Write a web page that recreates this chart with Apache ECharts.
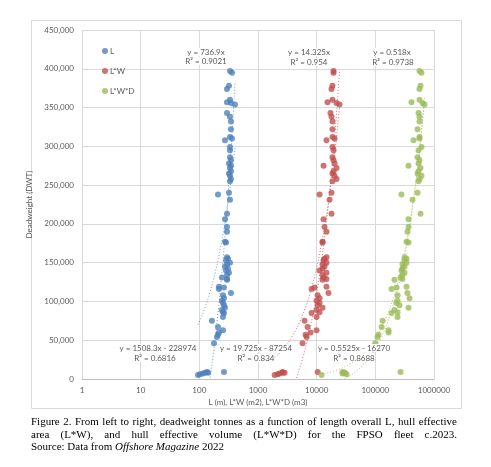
<!DOCTYPE html>
<html>
<head>
<meta charset="utf-8">
<script src="https://cdn.jsdelivr.net/npm/echarts@6/dist/echarts.min.js"></script>
<style>
  html, body { margin: 0; padding: 0; background: #fff; }
  #chart { width: 491px; height: 467px; }
  .caption {
    position: absolute;
    left: 31px;
    top: 415px;
    width: 426px;
    font-family: "Liberation Serif", serif;
    font-size: 11px;
    line-height: 12.5px;
    color: #000;
  }
  .caption .just { text-align: justify; text-align-last: justify; }
</style>
</head>
<body>
<div id="chart"></div>
<div class="caption">
  <div class="just">Figure 2. From left to right, deadweight tonnes as a function of length overall L, hull effective</div>
  <div class="just">area (L*W), and hull effective volume (L*W*D) for the FPSO fleet c.2023.</div>
  <div>Source: Data from <i>Offshore Magazine</i> 2022</div>
</div>
<script>
// deadweight of each FPSO (DWT), shared by all three series
const dwt = [
  397000, 395000, 378000, 374000, 360000, 357000, 356000, 354000, 343000, 338000,
  332000, 322000, 312000, 310000, 308000, 299000, 295000, 286000, 282000, 278000,
  275000, 272000, 268000, 265000, 262000, 258000, 255000, 238000, 240000, 231000,
  213000, 206000, 196000, 190000, 177000, 176000, 157000, 155000, 153000, 150000,
  148000, 145000, 142000, 140000, 137000, 134000, 131000, 129000, 128000, 119000,
  116000, 118000, 111000, 108000, 104000, 101000, 98000, 95000, 92000, 89000,
  86000, 85000, 80000, 75000, 67000, 63000, 60000, 57000, 54000, 46000,
  9000, 8000, 7000, 6000, 5000, 8000, 9000
]
// length overall L (m)
const lenL = [
  333, 360, 320, 296, 333, 296, 346, 405, 296, 333,
  346, 346, 333, 360, 274, 333, 333, 333, 346, 320,
  346, 333, 346, 320, 333, 346, 333, 208, 320, 333,
  296, 274, 296, 296, 274, 285, 296, 308, 285, 333,
  296, 274, 308, 285, 320, 296, 243, 296, 296, 216,
  216, 263, 346, 253, 263, 243, 253, 263, 274, 243,
  253, 263, 253, 164, 208, 253, 216, 208, 200, 178,
  263, 125, 115, 103, 95, 141, 135
]
// hull effective area L*W (m2)
const areaLW = [
  19400, 19400, 18600, 17900, 18600, 15300, 21800, 24500, 17200, 17900,
  18600, 18600, 18600, 20200, 14700, 18600, 19400, 18600, 19400, 20200,
  13100, 21800, 19400, 18600, 20200, 21800, 18600, 11200, 17900, 16600,
  17900, 13100, 13600, 14700, 12600, 12600, 14700, 13600, 13100, 14700,
  12600, 13600, 12600, 11200, 14700, 12600, 13100, 14700, 12600, 14700,
  8190, 9210, 15900, 10400, 11200, 9960, 11200, 10400, 12600, 9960,
  11200, 8190, 9960, 6220, 7000, 9960, 7870, 6470, 6730, 5750,
  10400, 2620, 2330, 2160, 1920, 2840, 2620
]
// hull effective volume L*W*D (m3)
const volLWD = [
  566000, 612000, 589000, 566000, 566000, 414000, 637000, 689000, 545000, 566000,
  566000, 524000, 566000, 566000, 448000, 612000, 545000, 524000, 566000, 545000,
  368000, 589000, 545000, 524000, 612000, 566000, 545000, 279000, 524000, 430000,
  589000, 368000, 368000, 353000, 340000, 368000, 314000, 340000, 314000, 340000,
  290000, 314000, 290000, 279000, 314000, 290000, 269000, 290000, 212000, 340000,
  189000, 230000, 353000, 239000, 383000, 239000, 230000, 258000, 368000, 212000,
  239000, 189000, 239000, 133000, 128000, 168000, 168000, 113000, 109000, 100000,
  269000, 29900, 27600, 32300, 12100, 29900, 27600
]

const seriesNames = ['L', 'L*W', 'L*W*D']
const seriesColors = ['#4F81BD', '#C0504D', '#9BBB59']
const seriesX = [lenL, areaLW, volLWD]

// Excel trendlines as printed on the chart: [slope, intercept]
const fitThroughZero = [[736.9, 0], [14.325, 0], [0.518, 0]]
const fitWithIntercept = [[1508.3, -228974], [19.725, -87254], [0.5525, -16270]]
const fitLabels = [
  ['y = 736.9x', 'R² = 0.9021', 'y = 1508.3x - 228974', 'R² = 0.6816'],
  ['y = 14.325x', 'R² = 0.954', 'y = 19.725x - 87254', 'R² = 0.834'],
  ['y = 0.518x', 'R² = 0.9738', 'y = 0.5525x - 16270', 'R² = 0.8688']
]

const xTicks = ['1', '10', '100', '1000', '10000', '100000', '1000000']

const chart = echarts.init(document.getElementById('chart'))
const font = 'Lato, "Liberation Sans", sans-serif'
const textGray = '#595959'

const trendPoints = (xs, fit) => {
  const lo = Math.log10(Math.min(...xs))
  const hi = Math.log10(Math.max(...xs))
  const pts = []
  for (let i = 0; i <= 60; i++) {
    const x = Math.pow(10, lo + (hi - lo) * i / 60)
    pts.push([x, fit[0] * x + fit[1]])
  }
  return pts
}

const series = []
seriesNames.forEach((name, k) => {
  series.push({
    name: name,
    type: 'scatter',
    symbol: 'circle',
    symbolSize: 6,
    itemStyle: { color: seriesColors[k] },
    data: seriesX[k].map((x, i) => [x, dwt[i]]),
    z: 3
  })
  ;[fitThroughZero[k], fitWithIntercept[k]].forEach(fit => {
    series.push({
      type: 'line',
      showSymbol: false,
      silent: true,
      clip: true,
      lineStyle: { color: seriesColors[k], width: 1, type: [1, 2], opacity: 0.8 },
      data: trendPoints(seriesX[k], fit),
      z: 2
    })
  })
})

// label positions for the trendline equations (pixels)
const labelPos = [
  [[206, 52], [206, 61], [158, 348], [155, 358]],
  [[309, 52], [309, 62], [256, 348], [256, 358]],
  [[392, 52], [393, 62], [354, 348], [354, 358]]
]
const graphics = [{
  type: 'rect',
  shape: { x: 31.5, y: 20.5, width: 430, height: 388 },
  style: { fill: 'none', stroke: '#d9d9d9', lineWidth: 1 },
  z: -1
}]
fitLabels.forEach((labels, k) => {
  labels.forEach((t, j) => {
    graphics.push({
      type: 'text',
      x: labelPos[k][j][0],
      y: labelPos[k][j][1],
      style: {
        text: t, fill: textGray, font: '8px ' + font,
        textAlign: 'center', textVerticalAlign: 'middle',
        backgroundColor: '#fff'
      },
      z: 10
    })
  })
})

chart.setOption({
  animation: false,
  textStyle: { fontFamily: font },
  grid: { left: 82, right: 57, top: 30, bottom: 88 },
  legend: {
    data: seriesNames,
    orient: 'vertical',
    left: 97,
    top: 42,
    itemWidth: 6,
    itemHeight: 6,
    itemGap: 12,
    icon: 'circle',
    textStyle: { color: textGray, fontSize: 8, fontFamily: font, padding: [0, 0, 0, -3] }
  },
  xAxis: {
    type: 'log',
    logBase: 10,
    min: 1,
    max: 1000000,
    splitNumber: 6,
    name: 'L (m), L*W (m2), L*W*D (m3)',
    nameLocation: 'middle',
    nameGap: 16,
    nameTextStyle: { color: textGray, fontSize: 8 },
    axisLine: { lineStyle: { color: '#bfbfbf' } },
    axisTick: { show: false },
    axisLabel: {
      color: textGray, fontSize: 8, margin: 7,
      formatter: v => xTicks[Math.round(Math.log10(v))]
    },
    splitLine: { show: true, lineStyle: { color: '#d9d9d9' } },
    minorTick: { show: false }
  },
  yAxis: {
    type: 'value',
    min: 0,
    max: 450000,
    interval: 50000,
    name: 'Deadweight (DWT)',
    nameLocation: 'middle',
    nameGap: 38,
    nameRotate: 90,
    nameTextStyle: { color: textGray, fontSize: 8 },
    axisLine: { show: false },
    axisTick: { show: false },
    axisLabel: {
      color: textGray, fontSize: 8, margin: 8,
      formatter: v => v === 0 ? '0' : v.toLocaleString('en-US')
    },
    splitLine: { lineStyle: { color: '#d9d9d9' } }
  },
  graphic: graphics,
  series: series
})
</script>
</body>
</html>
